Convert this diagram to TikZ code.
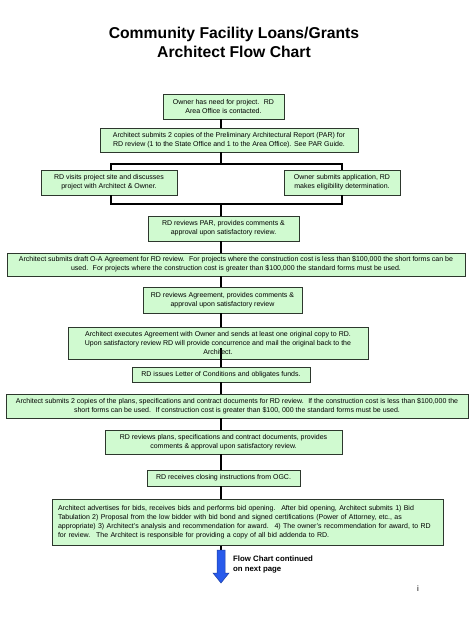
\documentclass[tikz,border=0pt]{standalone}
\usepackage{fontspec}
\setmainfont{Liberation Sans}
\definecolor{boxfill}{RGB}{208,250,208}
\definecolor{boxline}{RGB}{45,55,45}
\definecolor{arrowblue}{RGB}{40,90,235}
\tikzset{
  stepbox/.style={draw=boxline, fill=boxfill, line width=0.9pt, align=center,
    font=\fontsize{7}{8.9}\selectfont, inner sep=2pt},
  link/.style={line width=1.1pt}
}
\begin{document}
\begin{tikzpicture}[x=1pt,y=-1pt]
\useasboundingbox (0,0) rectangle (474,632);

\node[font=\bfseries\fontsize{15.7}{19.5}\selectfont, align=center] (title) at (234,42.5)
  {Community Facility Loans/Grants\\Architect Flow Chart};

% boxes, top to bottom
\node[stepbox, minimum width=121pt, minimum height=25pt] (need) at (223.5,106.5)
  {Owner has need for project.~ RD\\Area Office is contacted.};
\node[stepbox, minimum width=258pt, minimum height=24pt] (par) at (229,140)
  {Architect submits 2 copies of the Preliminary Architectural Report (PAR) for\\RD review (1 to the State Office and 1 to the Area Office). See PAR Guide.};
\node[stepbox, minimum width=136pt, minimum height=25pt] (visit) at (109,182.5)
  {RD visits project site and discusses\\project with Architect \& Owner.};
\node[stepbox, minimum width=116pt, minimum height=25pt] (apply) at (342,182.5)
  {Owner submits application, RD\\makes eligibility determination.};
\node[stepbox, minimum width=151pt, minimum height=25pt] (parrev) at (223.5,228.5)
  {RD reviews PAR, provides comments \&\\approval upon satisfactory review.};
\node[stepbox, minimum width=458pt, minimum height=23pt] (oa) at (236,264.5)
  {Architect submits draft O-A Agreement for RD review.~ For projects where the construction cost is less than \$100,000 the short forms can be\\used.~ For projects where the construction cost is greater than \$100,000 the standard forms must be used.};
\node[stepbox, minimum width=159pt, minimum height=26pt] (agrrev) at (222.5,300)
  {RD reviews Agreement, provides comments \&\\approval upon satisfactory review};
\node[stepbox, minimum width=300pt, minimum height=32pt] (exec) at (218,343)
  {Architect executes Agreement with Owner and sends at least one original copy to RD.\\Upon satisfactory review RD will provide concurrence and mail the original back to the\\Architect.};
\node[stepbox, minimum width=178pt, minimum height=15pt] (loc) at (221,374.5)
  {RD issues Letter of Conditions and obligates funds.};
\node[stepbox, minimum width=462pt, minimum height=24pt] (plans) at (237,406)
  {Architect submits 2 copies of the plans, specifications and contract documents for RD review.~ If the construction cost is less than \$100,000 the\\short forms can be used.~ If construction cost is greater than \$100, 000 the standard forms must be used.};
\node[stepbox, minimum width=237pt, minimum height=24pt] (plansrev) at (223.5,442)
  {RD reviews plans, specifications and contract documents, provides\\comments \& approval upon satisfactory review.};
\node[stepbox, minimum width=153pt, minimum height=16pt] (ogc) at (223.5,478)
  {RD receives closing instructions from OGC.};
\node[stepbox, align=left, text width=379pt, inner sep=6pt, minimum height=41pt] (bids) at (247.5,522.5)
  {Architect advertises for bids, receives bids and performs bid opening.~ After bid opening, Architect submits 1) Bid\\Tabulation 2) Proposal from the low bidder with bid bond and signed certifications (Power of Attorney, etc., as\\appropriate) 3) Architect's analysis and recommendation for award.~ 4) The owner's recommendation for award, to RD\\for review.~ The Architect is responsible for providing a copy of all bid addenda to RD.};

% connectors
\coordinate (spine) at (221,0);
\coordinate (split) at (221,164);
\coordinate (lbr) at (111,164);
\coordinate (rbr) at (342,164);
\coordinate (join) at (221,204);
\coordinate (lj) at (111,204);
\coordinate (rj) at (342,204);
\coordinate (arrtop) at (221,550);

\draw[link] (need.south -| spine) -- (par.north -| spine);
\draw[link] (par.south -| spine) -- (split);
\draw[link] (visit.north -| lbr) -- (lbr) -- (rbr) -- (apply.north -| rbr);
\draw[link] (visit.south -| lj) -- (lj) -- (rj) -- (apply.south -| rj);
\draw[link] (join) -- (parrev.north -| spine);
\draw[link] (parrev.south -| spine) -- (oa.north -| spine);
\draw[link] (oa.south -| spine) -- (agrrev.north -| spine);
\draw[link] (agrrev.south -| spine) -- (exec.north -| spine);
\draw[link] ([yshift=11pt]exec.south -| spine) -- (loc.north -| spine);
\draw[link] (loc.south -| spine) -- (plans.north -| spine);
\draw[link] (plans.south -| spine) -- (plansrev.north -| spine);
\draw[link] (plansrev.south -| spine) -- (ogc.north -| spine);
\draw[link] (ogc.south -| spine) -- (bids.north -| spine);
\draw[link] (bids.south -| spine) -- (arrtop);

% continuation arrow
\fill[arrowblue, draw=arrowblue!70!black, line width=0.5pt]
  (arrtop) ++(-4,0) -- ++(0,23) -- ++(-4,0) -- (221,583) -- (229,573) -- ++(-4,0) -- ++(0,-23) -- cycle;
\node[font=\bfseries\fontsize{7.8}{10}\selectfont, align=left, anchor=west, inner sep=0pt] (more) at (233,564)
  {Flow Chart continued\\on next page};
\node[font=\fontsize{8}{9}\selectfont, inner sep=0pt] (pageno) at (418,589) {i};
\end{tikzpicture}
\end{document}
